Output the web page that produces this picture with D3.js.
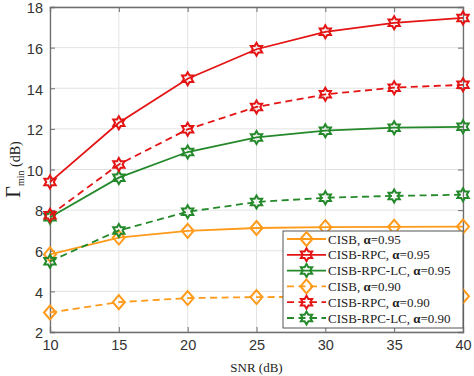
<!DOCTYPE html>
<html><head><meta charset="utf-8">
<script src="https://cdn.jsdelivr.net/npm/d3@7"></script>
<style>body{margin:0;background:#fff}svg{display:block}</style>
</head><body><svg id="c" width="474" height="376"></svg>
<script>
const snr = [10, 15, 20, 25, 30, 35, 40];
const xTicks = [10, 15, 20, 25, 30, 35, 40];
const yTicks = [2, 4, 6, 8, 10, 12, 14, 16, 18];
const cisb95 = [5.82, 6.65, 6.98, 7.12, 7.16, 7.18, 7.19];
const rpc95 = [9.38, 12.3, 14.47, 15.92, 16.78, 17.22, 17.46];
const lc95 = [7.65, 9.6, 10.86, 11.58, 11.91, 12.06, 12.1];
const cisb90 = [2.96, 3.47, 3.67, 3.72, 3.73, 3.74, 3.76];
const rpc90 = [7.75, 10.25, 11.98, 13.08, 13.7, 14.03, 14.17];
const lc90 = [5.48, 7.0, 7.92, 8.4, 8.61, 8.7, 8.76];
const names = ["CISB, ", "CISB-RPC, ", "CISB-RPC-LC, ", "CISB, ", "CISB-RPC, ", "CISB-RPC-LC, "];
const alphas = ["0.95", "0.95", "0.95", "0.90", "0.90", "0.90"];

const ORANGE = "#ff9a1a", RED = "#e41414", GREEN = "#24892a";
const series = [
  {v: cisb95, c: ORANGE, dash: null, m: "d"},
  {v: rpc95, c: RED, dash: null, m: "h"},
  {v: lc95, c: GREEN, dash: null, m: "h"},
  {v: cisb90, c: ORANGE, dash: "7,4.5", m: "d"},
  {v: rpc90, c: RED, dash: "7,4.5", m: "h"},
  {v: lc90, c: GREEN, dash: "7,4.5", m: "h"}
];

const svg = d3.select("#c");
const L = 50, R = 463, T = 7, B = 332;
const x = d3.scaleLinear().domain([10, 40]).range([L, R]);
const y = d3.scaleLinear().domain([2, 18]).range([B, T]);
const axisCol = "#6e6e6e";

// grid
const g = svg.append("g");
g.selectAll(".gx").data(xTicks).enter().append("line")
  .attr("x1", d => x(d)).attr("x2", d => x(d)).attr("y1", T).attr("y2", B)
  .attr("stroke", "#e3e3e3").attr("stroke-width", 1);
g.selectAll(".gy").data(yTicks).enter().append("line")
  .attr("y1", d => y(d)).attr("y2", d => y(d)).attr("x1", L).attr("x2", R)
  .attr("stroke", "#e3e3e3").attr("stroke-width", 1);

// axes
const fontTick = "'Liberation Sans', Arial, sans-serif";
const xa = svg.append("g").attr("transform", `translate(0,${B})`)
  .call(d3.axisBottom(x).tickValues(xTicks).tickSize(-5).tickPadding(8).tickFormat(d3.format("d")));
const xt = svg.append("g").attr("transform", `translate(0,${T})`)
  .call(d3.axisTop(x).tickValues(xTicks).tickSize(-5).tickFormat(""));
const ya = svg.append("g").attr("transform", `translate(${L},0)`)
  .call(d3.axisLeft(y).tickValues(yTicks).tickSize(-5).tickPadding(7).tickFormat(d3.format("d")));
const yr = svg.append("g").attr("transform", `translate(${R},0)`)
  .call(d3.axisRight(y).tickValues(yTicks).tickSize(-5).tickFormat(""));
[xa, xt, ya, yr].forEach(a => {
  a.selectAll("path").attr("stroke", axisCol).attr("stroke-width", 1.3);
  a.selectAll("line").attr("stroke", axisCol);
  a.selectAll("text").attr("fill", "#333").style("font-family", fontTick).style("font-size", "14.5px");
});
xa.selectAll("text").attr("dy", "0.71em");
ya.selectAll("text").attr("dy", "0.4em");

// lines
const line = d3.line().x((d, i) => x(snr[i])).y(d => y(d));
function hexPath(r) {
  const pts = [];
  for (let k = 0; k < 12; k++) {
    const a = -Math.PI / 2 + k * Math.PI / 6;
    const rr = k % 2 === 0 ? r : r / Math.sqrt(3);
    pts.push([rr * Math.cos(a), rr * Math.sin(a)]);
  }
  return "M" + pts.map(p => p[0].toFixed(2) + "," + p[1].toFixed(2)).join("L") + "Z";
}
function diaPath(w, h) { return `M0,${-h}L${w},0L0,${h}L${-w},0Z`; }
function marker(sel, m, c) {
  sel.append("path").attr("d", m === "d" ? diaPath(6, 7) : hexPath(6.5))
    .attr("fill", "none").attr("stroke", c).attr("stroke-width", 2)
    .attr("stroke-linejoin", "miter");
}
series.forEach(s => {
  svg.append("path").attr("d", line(s.v)).attr("fill", "none")
    .attr("stroke", s.c).attr("stroke-width", 1.8)
    .attr("stroke-dasharray", s.dash);
  s.v.forEach((v, i) => {
    const mg = svg.append("g").attr("transform", `translate(${x(snr[i])},${y(v)})`);
    marker(mg, s.m, s.c);
  });
});

// legend
const lg = svg.append("g");
lg.append("rect").attr("x", 283).attr("y", 231).attr("width", 180).attr("height", 97)
  .attr("fill", "#fff").attr("stroke", "#555").attr("stroke-width", 1);
series.forEach((s, i) => {
  const yy = 239 + i * 15.8;
  lg.append("line").attr("x1", 287).attr("x2", 326).attr("y1", yy).attr("y2", yy)
    .attr("stroke", s.c).attr("stroke-width", 1.8).attr("stroke-dasharray", s.dash);
  const mg = lg.append("g").attr("transform", `translate(306.5,${yy})`);
  marker(mg, s.m, s.c);
  const t = lg.append("text").attr("x", 328).attr("y", yy + 4.5)
    .style("font-family", "'Liberation Serif', 'Times New Roman', serif")
    .style("font-size", "13px").attr("fill", "#222");
  t.append("tspan").text(names[i]);
  t.append("tspan").text("α").style("font-weight", "bold");
  t.append("tspan").text("=" + alphas[i]);
});

// axis labels
svg.append("text").attr("x", (L + R) / 2).attr("y", 372).attr("text-anchor", "middle")
  .style("font-family", "'Liberation Serif', 'Times New Roman', serif").style("font-size", "13px")
  .attr("fill", "#222").text("SNR (dB)");
const yl = svg.append("text").attr("transform", `translate(20,${(T + B) / 2}) rotate(-90)`)
  .attr("text-anchor", "middle")
  .style("font-family", "'Liberation Serif', 'Times New Roman', serif").attr("fill", "#222");
yl.append("tspan").text("Γ").style("font-size", "20px");
yl.append("tspan").text("min").style("font-size", "10px").attr("dy", 4);
yl.append("tspan").text(" (dB)").style("font-size", "14px").attr("dy", -4);
</script></body></html>
